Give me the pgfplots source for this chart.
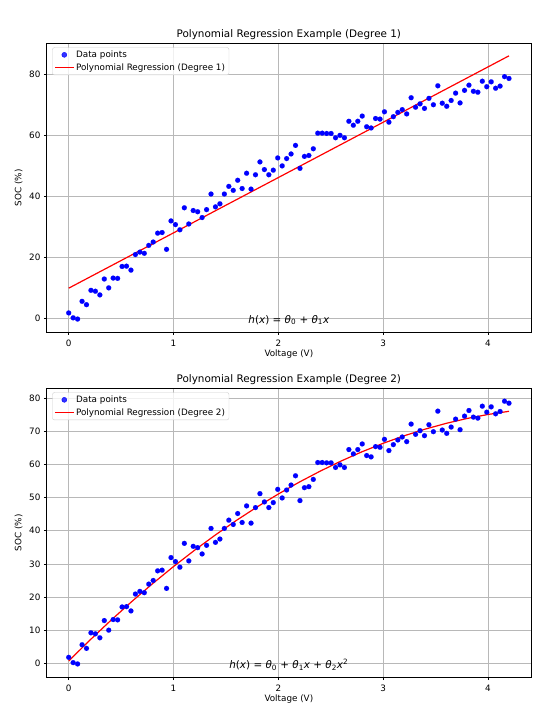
\documentclass[border=0pt]{standalone}
\usepackage{fontspec}
\setmainfont{DejaVu Sans}
\usepackage{pgfplots}
\usepackage{pgfplotstable}
\pgfplotsset{compat=1.18}
\pgfplotstableread{
x y
0.0000 1.8
0.0424 0.2
0.0848 -0.2
0.1273 5.6
0.1697 4.5
0.2121 9.2
0.2545 8.9
0.2970 7.7
0.3394 12.9
0.3818 10.0
0.4242 13.2
0.4667 13.1
0.5091 17.0
0.5515 17.1
0.5939 15.8
0.6364 20.9
0.6788 21.7
0.7212 21.3
0.7636 23.9
0.8061 25.0
0.8485 27.9
0.8909 28.1
0.9333 22.6
0.9758 31.9
1.0182 30.7
1.0606 29.0
1.1030 36.2
1.1455 30.9
1.1879 35.3
1.2303 34.9
1.2727 33.0
1.3152 35.6
1.3576 40.7
1.4000 36.5
1.4424 37.5
1.4848 40.7
1.5273 43.2
1.5697 41.9
1.6121 45.2
1.6545 42.5
1.6970 47.5
1.7394 42.3
1.7818 47.0
1.8242 51.2
1.8667 48.7
1.9091 47.0
1.9515 48.5
1.9939 52.5
2.0364 49.9
2.0788 52.3
2.1212 53.8
2.1636 56.6
2.2061 49.1
2.2485 53.0
2.2909 53.3
2.3333 55.5
2.3758 60.6
2.4182 60.6
2.4606 60.5
2.5030 60.5
2.5455 59.1
2.5879 59.9
2.6303 59.1
2.6727 64.5
2.7152 63.2
2.7576 64.5
2.8000 66.2
2.8424 62.7
2.8848 62.3
2.9273 65.4
2.9697 65.2
3.0121 67.6
3.0545 64.2
3.0970 66.0
3.1394 67.4
3.1818 68.3
3.2242 66.9
3.2667 72.2
3.3091 69.1
3.3515 70.2
3.3939 68.7
3.4364 72.0
3.4788 69.9
3.5212 76.1
3.5636 70.4
3.6061 69.4
3.6485 71.3
3.6909 73.7
3.7333 70.5
3.7758 74.6
3.8182 76.3
3.8606 74.3
3.9030 74.0
3.9455 77.6
3.9879 75.8
4.0303 77.4
4.0727 75.3
4.1152 76.0
4.1576 79.1
4.2000 78.5
}\datatable
\pgfplotstableread{
x y
0.0 9.9
4.2 85.9
}\fitone
\pgfplotstableread{
x y
0.0 0.70
0.2 6.93
0.4 12.89
0.6 18.59
0.8 24.03
1.0 29.20
1.2 34.11
1.4 38.75
1.6 43.13
1.8 47.25
2.0 51.10
2.2 54.69
2.4 58.01
2.6 61.07
2.8 63.87
3.0 66.40
3.2 68.67
3.4 70.67
3.6 72.41
3.8 73.89
4.0 75.10
4.2 76.05
}\fittwo
\pgfplotsset{
  every axis title shift=0pt,
  myaxis/.style={
    scale only axis,
    width=484.3pt, height=288.9pt,
    anchor=south west,
    xmin=-0.21, xmax=4.41,
    xtick={0,1,2,3,4},
    grid=major,
    major grid style={color=black!28, line width=0.55pt},
    axis line style={black, line width=0.64pt},
    tick style={black, line width=0.64pt},
    tick align=outside,
    major tick length=2.8pt,
    xtick pos=bottom, ytick pos=left,
    /pgf/number format/assume math mode=true,
    ticklabel style={font=\fontsize{8.8}{10.5}\selectfont},
    xticklabel style={yshift=-1.2pt},
    title style={at={(axis description cs:0.5,1.0295)}, anchor=center, font=\fontsize{10.4}{12.5}\selectfont},
    xlabel style={at={(axis description cs:0.5,-0.0765)}, anchor=center, font=\fontsize{8.8}{10.5}\selectfont},
    ylabel style={at={(axis description cs:-0.058,0.5)}, anchor=center, rotate=0, font=\fontsize{8.8}{10.5}\selectfont},
    xlabel={Voltage (V)},
    ylabel={SOC (\%)},
    legend cell align=left,
    legend style={at={(axis description cs:0.0116,0.986)}, anchor=north west,
      font=\fontsize{8.8}{10.5}\selectfont, draw=black!20, rounded corners=2pt,
      fill=white, fill opacity=0.8, text opacity=1,
      inner xsep=2pt, inner ysep=1.2pt, row sep=0.6pt},
  },
  datastyle/.style={only marks, mark=*, mark size=2.5pt, color=blue, mark options={draw=blue, fill=blue, line width=0.1pt},
    legend image code/.code={\fill[blue] (9.2pt,0pt) circle (2.5pt);}},
  fitstyle/.style={red, line width=1.2pt, mark=none, no markers,
    legend image code/.code={\draw[##1] (0pt,0pt) -- (18.4pt,0pt);}},
}
\begin{document}
\begin{tikzpicture}
\useasboundingbox (0pt,0pt) rectangle (550pt,716pt);
\begin{axis}[myaxis, at={(46.7pt,383.8pt)},
  ymin=-4.5, ymax=90, ytick={0,20,40,60,80},
  title={Polynomial Regression Example (Degree 1)}]
\addplot[datastyle] table[x=x,y=y] {\datatable};
\addlegendentry{Data points}
\addplot[fitstyle] table[x=x,y=y] {\fitone};
\addlegendentry{Polynomial Regression (Degree 1)}
\node[anchor=center, font=\fontsize{10.4}{12.5}\selectfont] at (axis description cs:0.5,0.042)
  {\textit{h}(\textit{x}) = \textit{θ}\textsubscript{0} + \textit{θ}\textsubscript{1}\textit{x}};
\end{axis}
\begin{axis}[myaxis, at={(46.7pt,38.8pt)},
  ymin=-4.2, ymax=83, ytick={0,10,20,30,40,50,60,70,80},
  title={Polynomial Regression Example (Degree 2)}]
\addplot[datastyle] table[x=x,y=y] {\datatable};
\addlegendentry{Data points}
\addplot[fitstyle] table[x=x,y=y] {\fittwo};
\addlegendentry{Polynomial Regression (Degree 2)}
\node[anchor=center, font=\fontsize{10.4}{12.5}\selectfont] at (axis description cs:0.5,0.042)
  {\textit{h}(\textit{x}) = \textit{θ}\textsubscript{0} + \textit{θ}\textsubscript{1}\textit{x} + \textit{θ}\textsubscript{2}\textit{x}\textsuperscript{2}};
\end{axis}
\end{tikzpicture}
\end{document}
